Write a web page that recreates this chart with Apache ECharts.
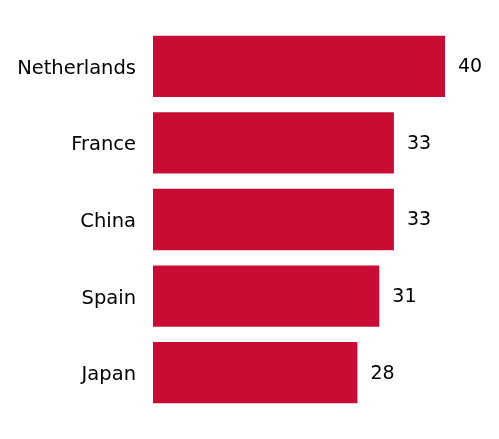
<!DOCTYPE html>
<html>
<head>
<meta charset="utf-8">
<script src="https://cdn.jsdelivr.net/npm/echarts@6/dist/echarts.min.js"></script>
<style>
  html, body { margin: 0; padding: 0; background: #fff; }
  #chart { width: 499px; height: 439px; }
</style>
</head>
<body>
<div id="chart"></div>
<script>
// 数据
var countries = ['Netherlands', 'France', 'China', 'Spain', 'Japan'];
var values = [40, 33, 33, 31, 28];

var myChart = echarts.init(document.getElementById('chart'));
var option = {
  backgroundColor: '#ffffff',
  animation: false,
  grid: {
    left: 153,
    right: 54, // 445 = 499 - 54
    top: 28,
    bottom: 28
  },
  xAxis: {
    type: 'value',
    min: 0,
    max: 40,
    show: false
  },
  yAxis: {
    type: 'category',
    inverse: true, // 第一个在上面
    data: countries,
    axisLine: { show: false },
    axisTick: { show: false },
    splitLine: { show: false },
    axisLabel: {
      margin: 17,
      formatter: function (v) { return '{n|' + v + '}'; },
      rich: {
        n: {
          color: '#000',
          fontFamily: 'DejaVu Sans',
          fontSize: 19.5,
          padding: [5, 0, 0, 0]
        }
      }
    }
  },
  series: [
    {
      type: 'bar',
      data: values,
      barCategoryGap: '20%',
      itemStyle: {
        color: '#c90c34'
      },
      label: {
        show: true,
        position: 'right',
        distance: 13,
        offset: [0, 1],
        color: '#000',
        fontFamily: 'DejaVu Sans',
        fontSize: 19
      }
    }
  ]
};
myChart.setOption(option);
</script>
</body>
</html>
